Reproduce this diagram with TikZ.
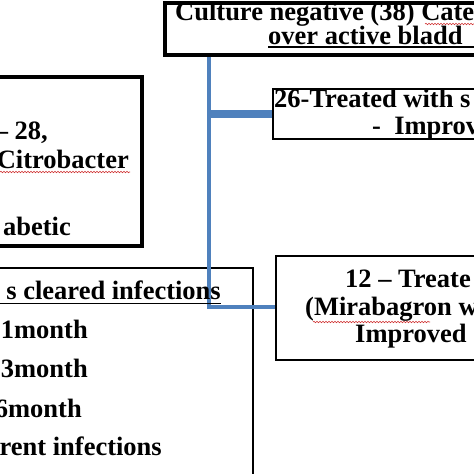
\documentclass[tikz,border=0pt]{standalone}
\usepackage{fontspec}
\setmainfont{Liberation Serif}
\usetikzlibrary{decorations.pathmorphing}
\definecolor{linkblue}{HTML}{4F81BD}
\definecolor{spellred}{HTML}{D03030}
\tikzset{
  boxthick/.style={draw=black, line width=3.5pt, fill=white, rectangle, inner sep=0pt, anchor=north west},
  boxthin/.style={draw=black, line width=2.2pt, fill=white, rectangle, inner sep=0pt, anchor=north west},
  txt/.style={inner sep=0pt, font=\fontsize{26.5}{26.5}\selectfont\bfseries},
  conn/.style={draw=linkblue, line width=3.5pt},
  connthick/.style={draw=linkblue, line width=8pt},
  uline/.style={draw=black, line width=1.4pt},
  spell/.style={draw=spellred, line width=0.6pt, decorate, decoration={snake, amplitude=0.7pt, segment length=3pt}}
}
\begin{document}
\begin{tikzpicture}[x=1pt,y=1pt]
\useasboundingbox (0,0) rectangle (474,-474);
\clip (0,0) rectangle (474,-474);
\fill[white] (0,0) rectangle (474,-474);

% boxes
\node[boxthick, minimum width=450pt, minimum height=52pt] (top) at (163,-1) {};
\node[boxthick, line width=4pt, minimum width=340pt, minimum height=169pt] (cit) at (-200,-75) {};
\node[boxthin, minimum width=400pt, minimum height=50pt] (b26) at (272,-88) {};
\node[boxthin, minimum width=400pt, minimum height=104pt] (b12) at (275,-255) {};
\node[boxthin, line width=2pt, minimum width=352pt, minimum height=400pt] (bl) at (-100,-267) {};

% connectors
\coordinate (j1) at (209,-114);
\coordinate (j2) at (209,-307);
\draw[conn] (top.south -| j1) -- (j2) -- (j2 -| b12.west);
\draw[connthick] (j1) -- (j1 -| b26.west);

% top box text
\node[txt, anchor=base west] (t1) at (175,-20) {Culture negative (38) Cate};
\node[txt, anchor=base west] (t2) at (268,-44) {over active bladd};
\draw[uline] ([yshift=-3pt]t2.base west) -- ([yshift=-3pt,xshift=20pt]t2.base east);
\draw[spell] (425,-24) -- (474,-24);

% 26 box text
\node[txt, anchor=base west] (s1) at (274,-107) {26-Treated with s};
\node[txt, anchor=base west] (s2) at (372,-134) {-\ \ Improv};

% 12 box text
\node[txt, anchor=base west] (m1) at (345,-287) {12 -- Treate};
\node[txt, anchor=base west] (m2) at (305,-315) {(Mirabagron w};
\node[txt, anchor=base west] (m3) at (355,-342) {Improved};
\draw[spell] (313,-322) -- (430,-322);

% citrobacter box text
\node[txt, anchor=base east] (c1) at (48,-139) {-- 28,};
\node[txt, anchor=base east] (c2) at (129,-168) {Citrobacter};
\node[txt, anchor=base east] (c3) at (71,-235) {abetic};
\draw[spell] (0,-172) -- (130,-172);

% bottom-left box text
\node[txt, anchor=base east] (l0) at (221,-299) {s cleared infections};
\draw[uline] ([yshift=-4.5pt,xshift=-20pt]l0.base west) -- ([yshift=-4.5pt]l0.base east);
\node[txt, anchor=base east] (l1) at (88,-338) {1month};
\node[txt, anchor=base east] (l2) at (88,-377) {3month};
\node[txt, anchor=base east] (l3) at (82,-417) {6month};
\node[txt, anchor=base east] (l4) at (162,-455) {rent infections};
\end{tikzpicture}
\end{document}
